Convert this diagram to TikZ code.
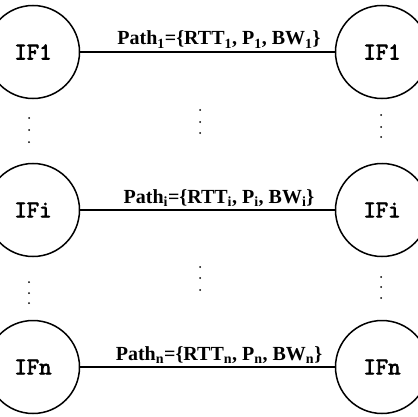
\documentclass[tikz,border=0pt]{standalone}
\usepackage{fontspec}
\setmainfont{Liberation Serif}
\setmonofont[AutoFakeBold=3]{Latin Modern Mono}
\newcommand{\sbx}[1]{\textsubscript{#1}}
\begin{document}
\begin{tikzpicture}[x=1pt,y=-1pt,
  ifnode/.style={circle,draw,line width=1.5pt,minimum size=93pt,inner sep=0pt,font=\ttfamily\bfseries\fontsize{24}{24}\selectfont},
  link/.style={line width=1.5pt},
  plabel/.style={font=\bfseries\fontsize{20}{20}\selectfont,inner sep=0pt,anchor=base},
  vdot/.style={circle,fill,inner sep=0pt,minimum size=2pt}]
\useasboundingbox (0,0) rectangle (417,417);
\node[ifnode] (l1) at (33,52) {IF1};
\node[ifnode] (r1) at (382,52) {IF1};
\node[ifnode] (li) at (33,210) {IFi};
\node[ifnode] (ri) at (382,210) {IFi};
\node[ifnode] (ln) at (33,367) {IFn};
\node[ifnode] (rn) at (382,367) {IFn};
\draw[link] (l1) -- (r1);
\draw[link] (li) -- (ri);
\draw[link] (ln) -- (rn);
\node[plabel] (p1) at (219,45) {Path\sbx{1}=\{RTT\sbx{1}, P\sbx{1}, BW\sbx{1}\}};
\node[plabel] (pi) at (219,203) {Path\sbx{i}=\{RTT\sbx{i}, P\sbx{i}, BW\sbx{i}\}};
\node[plabel] (pn) at (219,360) {Path\sbx{n}=\{RTT\sbx{n}, P\sbx{n}, BW\sbx{n}\}};
\foreach \y [count=\k] in {118,130,142} {\node[vdot] (a\k) at (29,\y) {};}
\foreach \y [count=\k] in {110,122,133} {\node[vdot] (b\k) at (200,\y) {};}
\foreach \y [count=\k] in {115,127,137} {\node[vdot] (c\k) at (381,\y) {};}
\foreach \y [count=\k] in {282,293,303} {\node[vdot] (d\k) at (29,\y) {};}
\foreach \y [count=\k] in {267,278,290} {\node[vdot] (e\k) at (200,\y) {};}
\foreach \y [count=\k] in {277,287,298} {\node[vdot] (f\k) at (381,\y) {};}
\end{tikzpicture}
\end{document}
